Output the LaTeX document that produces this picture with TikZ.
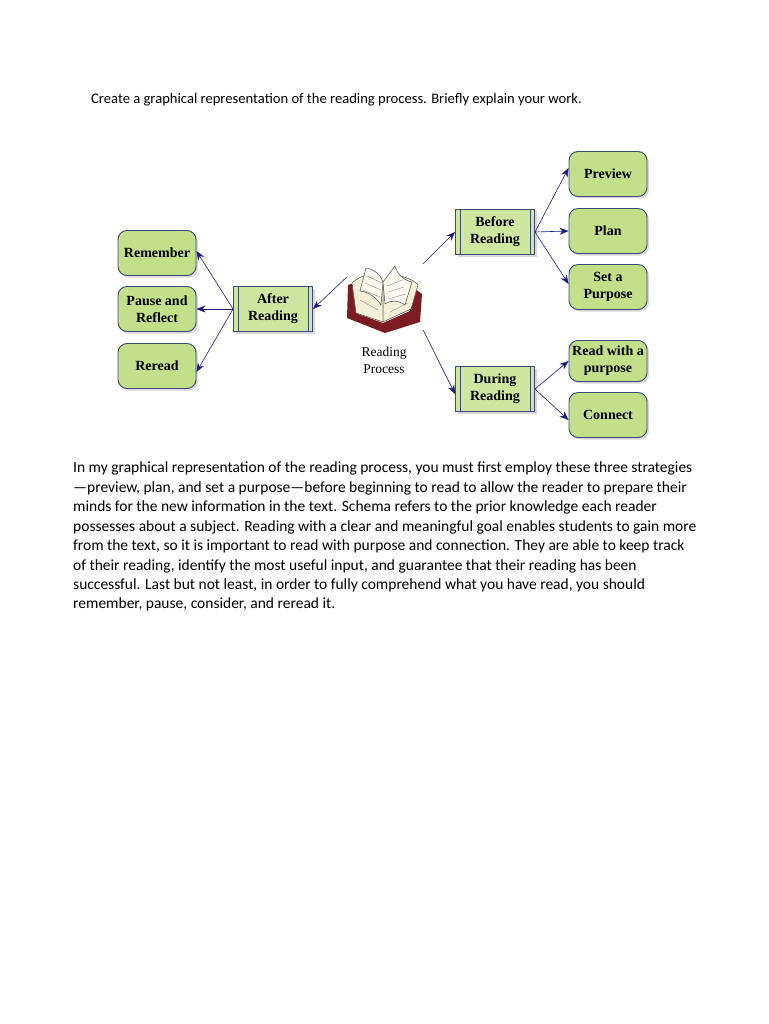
\documentclass[tikz,border=0pt]{standalone}
\usepackage{fontspec}
\setmainfont{Liberation Serif}
\newfontfamily\bodyfont{Carlito}
\usetikzlibrary{arrows.meta,shadows}
\definecolor{boxgreen}{HTML}{C2DF8A}
\definecolor{midgreen}{HTML}{CDE6A0}
\definecolor{edgeblue}{HTML}{3A4A7A}
\definecolor{arrowblue}{HTML}{1C1C80}
\definecolor{cover}{HTML}{7A1C22}
\definecolor{paper}{HTML}{F4F0D8}
\tikzset{
 leaf/.style={draw=edgeblue,line width=0.9pt,fill=boxgreen,rounded corners=9pt,minimum width=78pt,minimum height=45pt,inner sep=1pt,align=center,font=\bfseries\fontsize{14}{17}\selectfont,drop shadow={shadow xshift=2pt,shadow yshift=-2pt,fill=gray!60}},
 stage/.style={draw=edgeblue,line width=0.9pt,fill=midgreen,minimum width=79pt,minimum height=45pt,inner sep=1pt,align=center,font=\bfseries\fontsize{14}{17}\selectfont,drop shadow={shadow xshift=2pt,shadow yshift=-2pt,fill=gray!60}},
 conn/.style={draw=arrowblue,line width=0.6pt,-{Stealth[length=9pt,width=7pt]}},
 para/.style={anchor=west,inner sep=0pt,font=\bodyfont\fontsize{15.5}{18}\selectfont},
 ttl/.style={anchor=west,inner sep=0pt,font=\bodyfont\fontsize{14.6}{18}\selectfont}
}
\newcommand{\stagelines}[1]{\draw[edgeblue,line width=0.9pt] ([xshift=5pt]#1.north west)--([xshift=5pt]#1.south west) ([xshift=-5pt]#1.north east)--([xshift=-5pt]#1.south east);}
\begin{document}
\begin{tikzpicture}[x=1pt,y=-1pt]
\useasboundingbox[fill=white] (0,0) rectangle (768,1024);
\node[ttl] (title) at (91,100) {Create a graphical representation of the reading process. Briefly explain your work.};
% leaves
\node[leaf] (rem) at (157,253) {Remember};
\node[leaf] (pause) at (157,309) {Pause and\\Reflect};
\node[leaf] (reread) at (157,366) {Reread};
\node[leaf] (prev) at (608,174) {Preview};
\node[leaf] (plan) at (608,231) {Plan};
\node[leaf] (setp) at (608,287) {Set a\\Purpose};
\node[leaf, minimum height=41pt] (rwp) at (608,361) {Read with a\\purpose};
\node[leaf] (conn) at (608,415) {Connect};
% stages
\node[stage] (after) at (273,309) {After\\Reading};
\node[stage] (before) at (495,232) {Before\\Reading};
\node[stage] (during) at (495,389) {During\\Reading};
\stagelines{after}\stagelines{before}\stagelines{during}
% book
\node[minimum width=76pt,minimum height=66pt,inner sep=0pt] (book) at (385,297) {};
\fill[cover] (347,318) -- (348,285) -- (356,282) -- (358,314) -- (383,323) -- (410,311) -- (414,288) -- (422,294) -- (420,322) -- (385,333) -- cycle;
\filldraw[fill=paper,draw=black!70,line width=0.5pt] (352,283) -- (356,313) -- (383,322) -- (383,282) .. controls (372,272) and (362,274) .. cycle;
\filldraw[fill=paper,draw=black!70,line width=0.5pt] (383,322) -- (411,309) -- (418,285) .. controls (410,276) and (400,278) .. (393,272) -- (383,282) -- cycle;
\filldraw[fill=white!60!paper,draw=black!70,line width=0.5pt] (366,268) .. controls (374,269) and (380,274) .. (383,282) -- (381,305) .. controls (375,296) and (368,292) .. (360,291) -- cycle;
\filldraw[fill=white!60!paper,draw=black!70,line width=0.5pt] (395,266) .. controls (398,276) and (404,280) .. (412,282) -- (405,305) .. controls (398,300) and (390,300) .. (385,304) -- (383,282) -- cycle;
\draw[black!45,line width=0.4pt] (363,290)--(380,297) (365,283)--(381,290) (367,276)--(382,283) (388,292)--(404,287) (388,299)--(406,294) (387,286)--(402,280) (360,300)--(378,310) (390,312)--(408,303);
\node[align=center,font=\fontsize{13.5}{17}\selectfont] (rp) at (384,360) {Reading\\Process};
% connectors
\draw[conn] (book.north east) -- (before.west);
\draw[conn] (book.south east) -- ([yshift=-5pt]during.west);
\draw[conn] ([yshift=20pt]book.west) -- (after.east);
\draw[conn] (before.east) -- ([yshift=6pt]prev.west);
\draw[conn] (before.east) -- (plan.west);
\draw[conn] (before.east) -- ([yshift=3pt]setp.west);
\draw[conn] (during.east) -- (rwp.west);
\draw[conn] (during.east) -- ([yshift=-5pt]conn.west);
\draw[conn] (after.west) -- ([yshift=2pt]rem.east);
\draw[conn] (after.west) -- (pause.east);
\draw[conn] (after.west) -- ([yshift=-6pt]reread.east);
% paragraph
\node[para] (p1) at (73,468) {In my graphical representation of the reading process, you must first employ these three strategies};
\node[para] (p2) at (73,488) {—preview, plan, and set a purpose—before beginning to read to allow the reader to prepare their};
\node[para] (p3) at (73,507) {minds for the new information in the text. Schema refers to the prior knowledge each reader};
\node[para] (p4) at (73,527) {possesses about a subject. Reading with a clear and meaningful goal enables students to gain more};
\node[para] (p5) at (73,546) {from the text, so it is important to read with purpose and connection. They are able to keep track};
\node[para] (p6) at (73,566) {of their reading, identify the most useful input, and guarantee that their reading has been};
\node[para] (p7) at (73,585) {successful. Last but not least, in order to fully comprehend what you have read, you should};
\node[para] (p8) at (73,604) {remember, pause, consider, and reread it.};
\end{tikzpicture}
\end{document}
